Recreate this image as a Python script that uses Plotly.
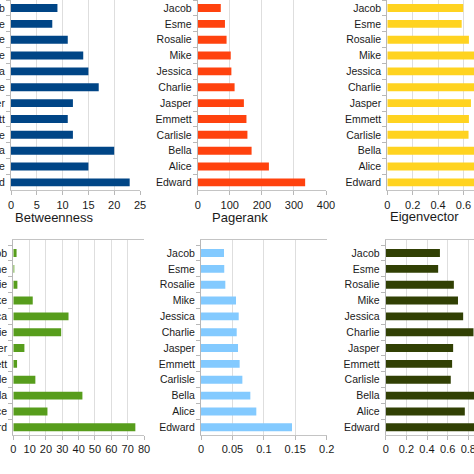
import plotly.graph_objects as go

names = ["Jacob", "Esme", "Rosalie", "Mike", "Jessica", "Charlie",
         "Jasper", "Emmett", "Carlisle", "Bella", "Alice", "Edward"]

betweenness = [9, 8, 11, 14, 15, 17, 12, 11, 12, 20, 15, 23]
pagerank = [72, 85, 90, 103, 105, 115, 144, 152, 155, 168, 222, 335]
eigenvector = [0.598, 0.586, 0.643, 0.72, 0.75, 0.80, 0.659, 0.643, 0.64, 0.90, 0.85, 1.0]
degree2 = [2.0, 0.3, 2.5, 11.9, 33.8, 29.3, 6.8, 2.3, 13.5, 42.3, 20.9, 74.7]
pagerank2 = [0.0366, 0.037, 0.0387, 0.0557, 0.06, 0.0568, 0.0589, 0.0615,
             0.0658, 0.0785, 0.088, 0.1448]
eigenvector2 = [0.525, 0.508, 0.66, 0.70, 0.75, 0.85, 0.653, 0.643, 0.63, 0.95, 0.766, 1.0]

titles = ["Betweenness", "Pagerank", "Eigenvector"]

W = H = 474.0
FONT = "Liberation Sans, Arial, sans-serif"

panels = [
    # series, color, x0px, x1px, xrange, dtick, top_px, bottom_px, yrange, top_border
    (betweenness, "#004586", 11.0, 140.0, [0, 25], 5, 0.0, 190.3, [11.5, -0.505], False),
    (pagerank, "#ff420e", 197.7, 326.0, [0, 400], 100, 0.0, 190.3, [11.5, -0.505], False),
    (eigenvector, "#ffd320", 387.3, 474.0, [0, 0.683], 0.2, 0.0, 190.3, [11.5, -0.505], False),
    (degree2, "#579d1c", 13.3, 144.0, [0, 80], 10, 240.0, 435.2, [11.5, -0.82], True),
    (pagerank2, "#83caff", 201.0, 326.7, [0, 0.2], 0.05, 240.0, 435.2, [11.5, -0.82], True),
    (eigenvector2, "#314004", 385.7, 474.0, [0, 0.855], 0.2, 240.0, 435.2, [11.5, -0.82], True),
]

fig = go.Figure()
layout = dict(
    width=474, height=474,
    margin=dict(l=0, r=0, t=0, b=0, pad=0, autoexpand=False),
    paper_bgcolor="white", plot_bgcolor="white",
    showlegend=False,
    font=dict(family=FONT, size=11, color="#1a1a1a"),
    annotations=[],
)

for i, (vals, color, x0, x1, xr, dt, top, bot, yr, tb) in enumerate(panels):
    n = i + 1
    xa = "x" if n == 1 else f"x{n}"
    ya = "y" if n == 1 else f"y{n}"
    fig.add_trace(go.Bar(
        x=vals, y=names, orientation="h",
        marker=dict(color=color, line=dict(width=0)),
        width=0.5, xaxis=xa, yaxis=ya, hoverinfo="skip",
    ))
    xkey = "xaxis" if n == 1 else f"xaxis{n}"
    ykey = "yaxis" if n == 1 else f"yaxis{n}"
    layout[xkey] = dict(
        domain=[x0 / W, min(x1 / W, 1.0)], range=xr, dtick=dt, tick0=0,
        anchor=ya, showgrid=True, gridcolor="#dedede", gridwidth=1,
        showline=True, linecolor="#c4c4c4", linewidth=1, mirror=tb,
        ticks="outside", ticklen=4, tickcolor="#b8b8b8",
        ticklabeloverflow="allow",
        zeroline=False, fixedrange=True, automargin=False,
        tickfont=dict(size=11, color="#1a1a1a"),
    )
    layout[ykey] = dict(
        domain=[1 - bot / H, 1 - top / H], range=yr, type="category",
        categoryorder="array", categoryarray=names,
        anchor=xa, showgrid=False,
        showline=True, linecolor="#b8b8b8", linewidth=1,
        ticks="outside", ticklen=4, tickcolor="#b8b8b8", tickson="boundaries",
        ticklabelstandoff=3, ticklabeloverflow="allow",
        fixedrange=True, automargin=False,
        tickfont=dict(size=10.5, color="#1a1a1a"),
    )

title_pos = [(54.2, 217.5), (240.0, 217.0), (424.3, 216.5)]
for t, (cx, cy) in zip(titles, title_pos):
    layout["annotations"].append(dict(
        text=t, x=cx / W, y=1 - cy / H, xref="paper", yref="paper",
        xanchor="center", yanchor="middle", showarrow=False,
        font=dict(family=FONT, size=13, color="#1a1a1a"),
    ))

fig.update_layout(**layout)
fig.write_html("out.html", config={"displayModeBar": False})
